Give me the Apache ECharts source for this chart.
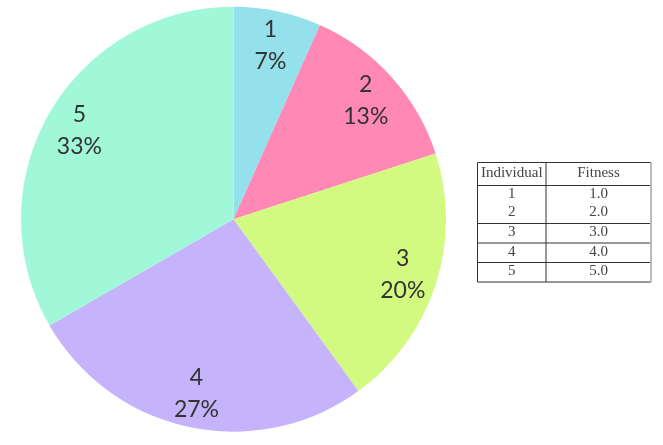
<!DOCTYPE html>
<html><head><meta charset="utf-8">
<script src="https://cdn.jsdelivr.net/npm/echarts@6/dist/echarts.min.js"></script>
<style>html,body{margin:0;padding:0;background:#fff}#c{width:663px;height:445px}</style>
</head><body><div id="c"></div>
<script>
const individuals = ['1','2','3','4','5'];
const fitness = [1.0, 2.0, 3.0, 4.0, 5.0];
const colors = ['#94E0EB','#FF88B4','#D2FA80','#C5B3FC','#A0F8D8'];
const tableHeader = ['Individual','Fitness'];

const chart = echarts.init(document.getElementById('c'));
const pieData = individuals.map((n,i)=>({name:n, value:fitness[i], itemStyle:{color:colors[i]}}));
const labelData = individuals.map((n,i)=>({name:n, value:fitness[i]}));

// table graphic
const tx0=477.5, tx1=546, tx2=651;
const rowLines=[162.5,185.5,223.5,243,262.5,282];
const textY=[173.5,193.7,212.5,232.5,252,271.5];
const g=[];
const lineStyle={stroke:'#333',lineWidth:1};
rowLines.forEach(y=>g.push({type:'line',shape:{x1:tx0,y1:y,x2:tx2,y2:y},style:lineStyle}));
g.push({type:'line',shape:{x1:tx0,y1:rowLines[0],x2:tx0,y2:rowLines[5]},style:lineStyle});
g.push({type:'line',shape:{x1:tx1,y1:rowLines[0],x2:tx1,y2:rowLines[5]},style:lineStyle});
g.push({type:'line',shape:{x1:tx2,y1:rowLines[0],x2:tx2,y2:rowLines[5]},style:{stroke:'#bbb',lineWidth:2}});
const tstyle=(t,x,y)=>({type:'text',x:x,y:y,style:{text:t,font:'15px "Liberation Serif"',fill:'#444',align:'center',verticalAlign:'middle'}});
g.push(tstyle(tableHeader[0],(tx0+tx1)/2,textY[0]));
g.push(tstyle(tableHeader[1],(tx1+tx2)/2,textY[0]));
individuals.forEach((n,i)=>{
  g.push(tstyle(n,(tx0+tx1)/2,textY[i+1]));
  g.push(tstyle(fitness[i].toFixed(1),(tx1+tx2)/2,textY[i+1]));
});

chart.setOption({
  animation:false,
  graphic:g,
  series:[
    {type:'pie',center:[233.5,219.2],radius:[0,212.5],startAngle:90,clockwise:true,
     data:pieData,label:{show:false},labelLine:{show:false},silent:true,
     itemStyle:{borderWidth:0}},
    {type:'pie',center:[233.5,219.2],radius:[138,212],startAngle:90,clockwise:true,
     data:labelData,silent:true,itemStyle:{color:'rgba(0,0,0,0)',borderWidth:0},
     labelLine:{show:false},
     label:{show:true,position:'inside',formatter:p=>p.name+'\n'+Math.round(p.percent)+'%',
       fontFamily:'Lato',fontSize:23,lineHeight:32,color:'#333'}}
  ]
});
</script></body></html>
